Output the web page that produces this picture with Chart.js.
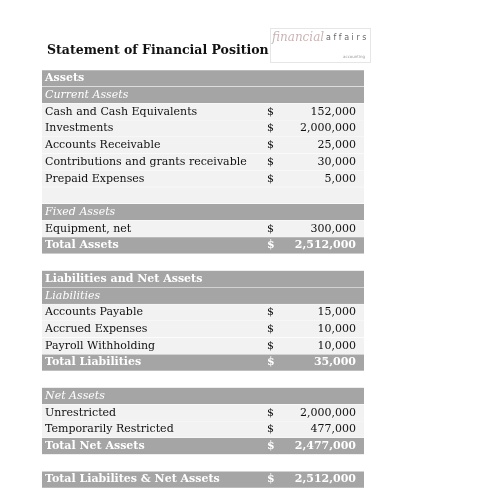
<!DOCTYPE html>
<html><head><meta charset="utf-8">
<script src="https://cdn.jsdelivr.net/npm/chart.js@4"></script>
<style>html,body{margin:0;padding:0;background:#fff}#c{display:block}</style>
</head><body>
<div style="width:500px;height:500px"><canvas id="c" width="500" height="500"></canvas></div>
<script>
const rowLabels = ["Assets","Current Assets","Cash and Cash Equivalents","Investments","Accounts Receivable","Contributions and grants receivable","Prepaid Expenses","","Fixed Assets","Equipment, net","Total Assets","","Liabilities and Net Assets","Liabilities","Accounts Payable","Accrued Expenses","Payroll Withholding","Total Liabilities","","Net Assets","Unrestricted","Temporarily Restricted","Total Net Assets","","Total Liabilites & Net Assets"];
const rowAmounts = [null,null,"152,000","2,000,000","25,000","30,000","5,000",null,null,"300,000","2,512,000",null,null,null,"15,000","10,000","10,000","35,000",null,null,"2,000,000","477,000","2,477,000",null,"2,512,000"];
// h=header bold, s=subheader italic, d=data, b=blank light, g=gap, t=total
const rowKinds = ["h","s","d","d","d","d","d","b","s","d","t","g","h","s","d","d","d","t","g","s","d","d","t","g","t"];
const fillColors = {h:"#a5a5a5",s:"#a5a5a5",t:"#a5a5a5",d:"#f2f2f2",b:"#f2f2f2",g:"#ffffff"};

const textPlugin = {
  id:"tableText",
  afterDatasetsDraw(chart){
    const ctx = chart.ctx, y = chart.scales.y, a = chart.chartArea;
    ctx.save();
    ctx.textBaseline = "middle";
    rowLabels.forEach((lab,i)=>{
      const k = rowKinds[i], py = y.getPixelForValue(i);
      const dark = (k==="h"||k==="s"||k==="t");
      ctx.fillStyle = dark ? "#ffffff" : "#111111";
      ctx.font = (k==="h"||k==="t") ? "bold 11px 'DejaVu Serif'" : (k==="s" ? "italic 11px 'DejaVu Serif'" : "11px 'DejaVu Serif'");
      ctx.textAlign = "left";
      ctx.fillText(lab, a.left+3, py);
      if (rowAmounts[i]) {
        ctx.font = (k==="t") ? "bold 11px 'DejaVu Serif'" : "11px 'DejaVu Serif'";
        ctx.fillText("$", a.left+225, py);
        ctx.textAlign = "right";
        ctx.fillText(rowAmounts[i], a.right-8, py);
      }
    });
    // title
    ctx.textAlign="left"; ctx.fillStyle="#111";
    ctx.font="bold 12.5px 'DejaVu Serif'";
    ctx.fillText("Statement of Financial Position",47,51);
    // logo
    ctx.strokeStyle="#e6e6e6"; ctx.lineWidth=1;
    ctx.strokeRect(270.5,28.5,100,34);
    ctx.fillStyle="#c9b6b6"; ctx.font="italic 12px 'DejaVu Serif'";
    ctx.fillText("financial",272,38);
    ctx.fillStyle="#666"; ctx.font="8px 'DejaVu Sans'";
    ctx.fillText("a f f a i r s",326,38);
    ctx.font="4px 'DejaVu Sans'"; ctx.fillStyle="#999";
    ctx.fillText("accounting",343,57);
    ctx.restore();
  }
};

new Chart(document.getElementById("c"),{
  type:"bar",
  data:{labels:rowLabels.map((l,i)=>i),
    datasets:[{data:rowLabels.map(()=>1),
      backgroundColor:rowKinds.map(k=>fillColors[k]),
      borderColor:"#ffffff",borderWidth:{top:0.5,bottom:0.5,left:0,right:0},
      categoryPercentage:1,barPercentage:1}]},
  options:{indexAxis:"y",responsive:false,animation:false,
    layout:{padding:{left:42,right:136,top:70,bottom:12}},
    plugins:{legend:{display:false},tooltip:{enabled:false}},
    scales:{x:{display:false,min:0,max:1},y:{display:false}}},
  plugins:[textPlugin]
});
</script></body></html>
